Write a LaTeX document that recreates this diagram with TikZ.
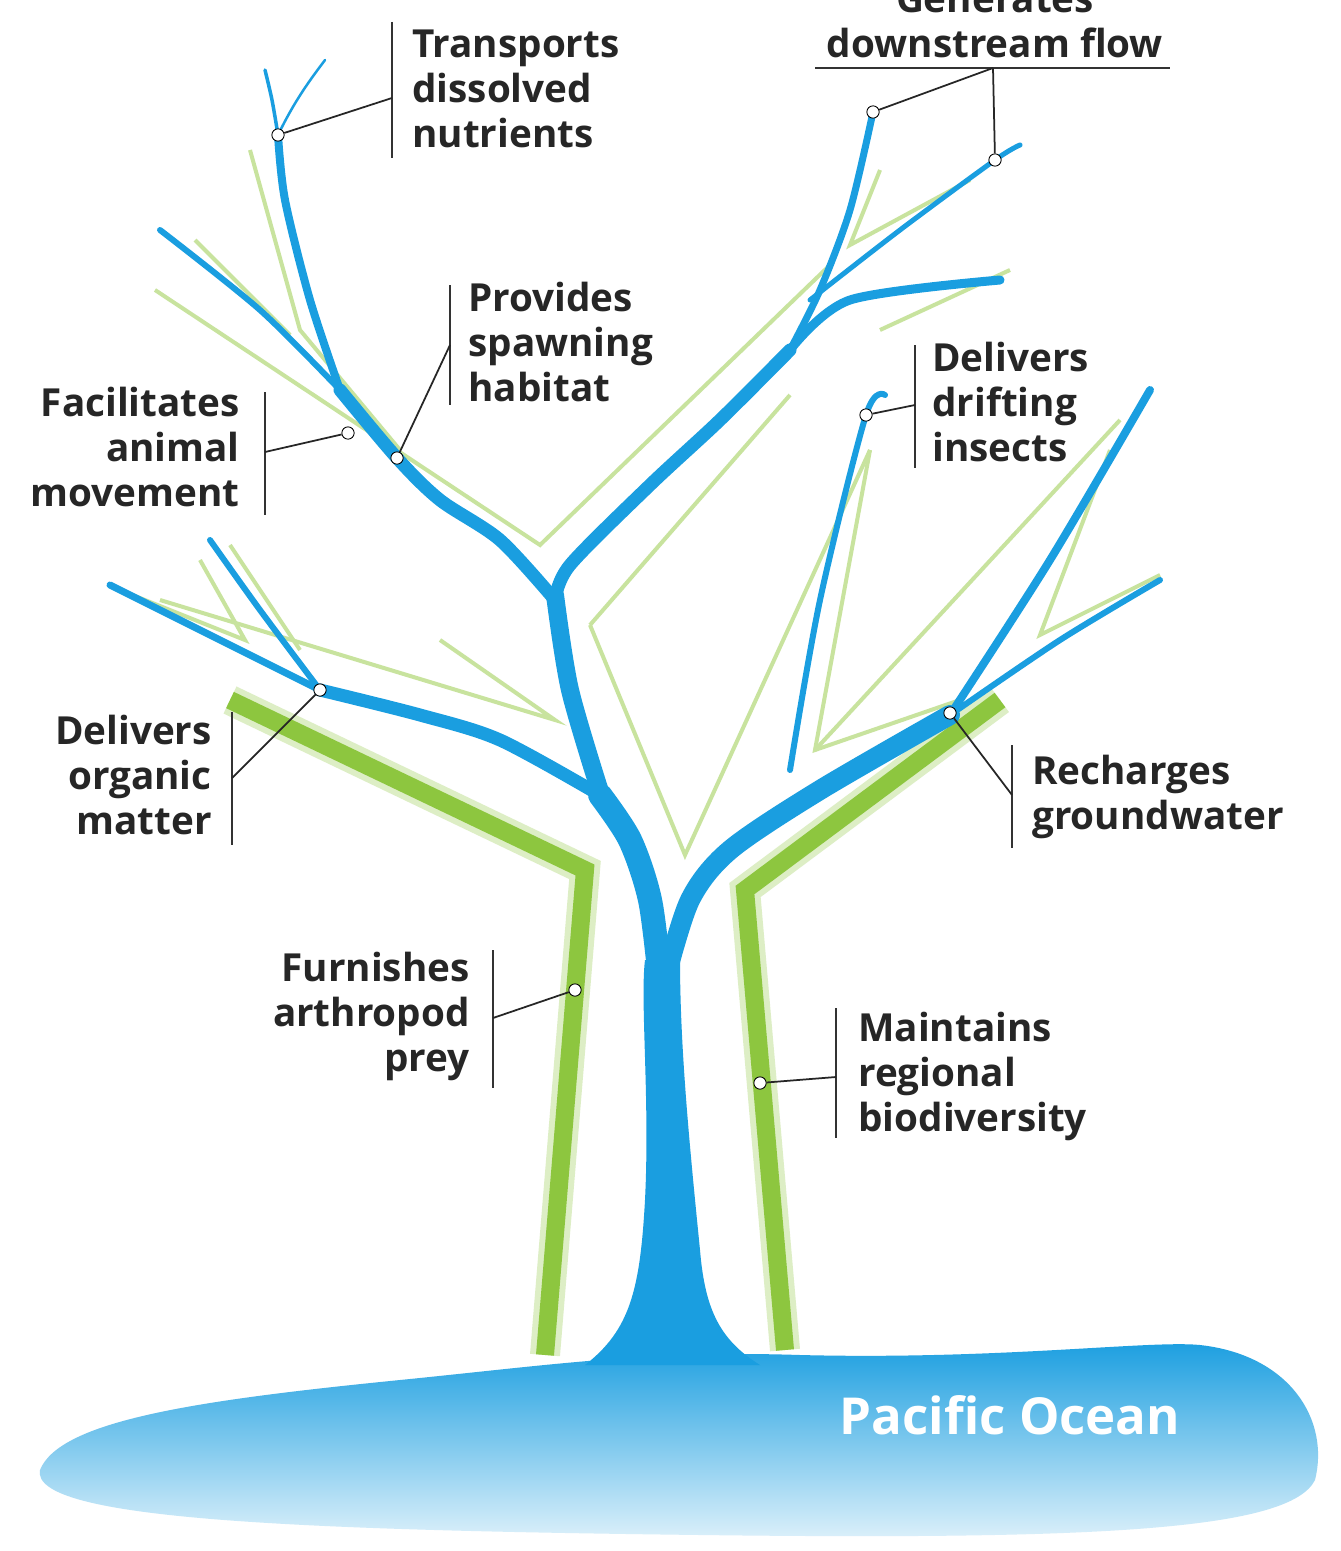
\documentclass[tikz,border=0pt]{standalone}
\usepackage{fontspec}
\setmainfont{Open Sans}
\begin{document}
\begin{tikzpicture}[x=0.02cm,y=-0.02cm,
  riv/.style={draw=rblue,line cap=round,line join=round},
  gthick/.style={draw=gmain,line width=18*0.02cm,line join=miter},
  gglow/.style={draw=gmain!30,line width=30*0.02cm,line join=miter},
  gthin/.style={draw=glight,line width=4*0.02cm,line join=miter},
  lab/.style={font=\fontsize{22}{25.5}\selectfont\bfseries,inner sep=0pt,text=black!85},
  bar/.style={draw=black!80,line width=1.3pt},
  lead/.style={draw=black!85,line width=1pt},
  pt/.style={circle,draw=black,fill=white,line width=0.5pt,minimum size=7pt,inner sep=0pt}]
\definecolor{rblue}{HTML}{1A9EE0}
\definecolor{gmain}{HTML}{8DC63F}
\definecolor{glight}{HTML}{C8E39E}
\useasboundingbox (0,0) rectangle (1341,1551);
\fill[white] (0,0) rectangle (1341,1551);
% thin green
\begin{scope}[gthin]
\draw (155,290) -- (540,545) -- (830,265);
\draw (250,150) -- (300,330) -- (400,450);
\draw (195,240) -- (290,335);
\draw (590,625) -- (790,395);
\draw (590,625) -- (685,855) -- (870,450);
\draw (880,170) -- (850,245) -- (970,180);
\draw (880,330) -- (1010,270);
\draw (870,450) -- (815,750) -- (960,700);
\draw (1120,420) -- (815,750);
\draw (1110,450) -- (1040,635) -- (1160,575);
\draw (230,545) -- (300,650);
\draw (200,560) -- (245,640) -- (120,590);
\draw (160,600) -- (555,720) -- (440,640);
\end{scope}
% thick green
\draw[gglow] (545,1355) -- (585,870) -- (230,700);
\draw[gglow] (785,1350) -- (745,890) -- (1000,700);
\draw[gthick] (545,1355) -- (585,870) -- (230,700);
\draw[gthick] (785,1350) -- (745,890) -- (1000,700);
% ocean
\shade[top color=rblue, bottom color=rblue!15]
 (40,1470) .. controls (60,1420) and (200,1400) .. (400,1380)
 .. controls (550,1365) and (650,1350) .. (800,1355)
 .. controls (1000,1360) and (1150,1340) .. (1200,1345)
 .. controls (1290,1355) and (1330,1420) .. (1315,1480)
 .. controls (1290,1530) and (1100,1540) .. (700,1535)
 .. controls (300,1530) and (30,1520) .. (40,1470) -- cycle;
% trunk
\fill[rblue] (585,1365) .. controls (630,1330) and (640,1290) .. (645,1200)
 .. controls (650,1100) and (640,1000) .. (645,960) -- (680,960)
 .. controls (680,1050) and (690,1150) .. (700,1250)
 .. controls (705,1310) and (720,1340) .. (760,1365) -- cycle;
\draw[riv,line width=24*0.02cm] plot[smooth] coordinates {(660,980) (650,900) (630,840) (600,795)};
\draw[riv,line width=20*0.02cm] plot[smooth] coordinates {(665,980) (690,900) (730,850) (820,790) (950,715)};
\draw[riv,line width=18*0.02cm] plot[smooth] coordinates {(602,798) (570,690) (555,595)};
\draw[riv,line width=13*0.02cm] plot[smooth] coordinates {(600,795) (500,740) (420,715) (320,690)};
\draw[riv,line width=13*0.02cm] plot[smooth] coordinates {(555,600) (500,540) (440,500) (397,458) (340,390)};
\draw[riv,line width=13*0.02cm] plot[smooth] coordinates {(555,600) (570,565) (650,485) (720,420) (790,350)};
% left upper
\draw[riv,line width=8*0.02cm] plot[smooth] coordinates {(340,390) (310,300) (285,200) (278,135)};
\draw[riv,line width=6*0.02cm] plot[smooth] coordinates {(340,390) (260,310) (160,230)};
\draw[riv,line width=3.5*0.02cm] plot[smooth] coordinates {(278,135) (272,100) (265,70)};
\draw[riv,line width=2.5*0.02cm] (278,135) .. controls (295,100) and (310,80) .. (325,60);
% left lower
\draw[riv,line width=7*0.02cm] plot[smooth] coordinates {(320,690) (220,640) (110,585)};
\draw[riv,line width=6*0.02cm] plot[smooth] coordinates {(320,690) (260,610) (210,540)};
% upper right
\draw[riv,line width=9*0.02cm] plot[smooth] coordinates {(790,350) (850,300) (1000,280)};
\draw[riv,line width=7*0.02cm] plot[smooth] coordinates {(790,350) (820,290) (850,210) (873,112)};
\draw[riv,line width=5*0.02cm] plot[smooth] coordinates {(810,300) (900,230) (995,160) (1020,145)};
% right
\draw[riv,line width=8*0.02cm] plot[smooth] coordinates {(950,715) (1050,560) (1150,390)};
\draw[riv,line width=6*0.02cm] plot[smooth] coordinates {(950,715) (1060,640) (1160,580)};
\draw[riv,line width=6*0.02cm] plot[smooth] coordinates {(790,770) (820,600) (866,415) (885,395)};
% points
\node[pt] (p1) at (278,135) {};
\node[pt] (p2a) at (873,112) {};
\node[pt] (p2b) at (995,160) {};
\node[pt] (p3) at (397,458) {};
\node[pt] (p4) at (348,433) {};
\node[pt] (p5) at (866,415) {};
\node[pt] (p6) at (320,690) {};
\node[pt] (p7) at (950,713) {};
\node[pt] (p8) at (575,990) {};
\node[pt] (p9) at (760,1083) {};
% labels
\node[lab,anchor=north west,align=left] (t1) at (412,30) {Transports\\dissolved\\nutrients};
\node[lab,anchor=south,align=center] (t2) at (995,58) {Generates\\downstream flow};
\node[lab,anchor=north west,align=left] (t3) at (468,282) {Provides\\spawning\\habitat};
\node[lab,anchor=north east,align=right] (t4) at (240,387) {Facilitates\\animal\\movement};
\node[lab,anchor=north west,align=left] (t5) at (932,342) {Delivers\\drifting\\insects};
\node[lab,anchor=north east,align=right] (t6) at (212,715) {Delivers\\organic\\matter};
\node[lab,anchor=north west,align=left] (t7) at (1032,755) {Recharges\\groundwater};
\node[lab,anchor=north east,align=right] (t8) at (470,952) {Furnishes\\arthropod\\prey};
\node[lab,anchor=north west,align=left] (t9) at (858,1012) {Maintains\\regional\\biodiversity};
\node[font=\fontsize{29}{32}\selectfont\bfseries,text=white,inner sep=0pt] (oc) at (1010,1415) {Pacific Ocean};
% bars and leaders
\coordinate (b1) at (392,98); \draw[bar] (392,22) -- (392,158); \draw[lead] (b1) -- (p1);
\coordinate (b2) at (993,68); \draw[bar] (815,68) -- (1170,68); \draw[lead] (b2) -- (p2a); \draw[lead] (b2) -- (p2b);
\coordinate (b3) at (450,345); \draw[bar] (450,285) -- (450,405); \draw[lead] (b3) -- (p3);
\coordinate (b4) at (265,452); \draw[bar] (265,392) -- (265,515); \draw[lead] (b4) -- (p4);
\coordinate (b5) at (915,405); \draw[bar] (915,345) -- (915,468); \draw[lead] (b5) -- (p5);
\coordinate (b6) at (232,778); \draw[bar] (232,712) -- (232,845); \draw[lead] (b6) -- (p6);
\coordinate (b7) at (1012,795); \draw[bar] (1012,745) -- (1012,848); \draw[lead] (b7) -- (p7);
\coordinate (b8) at (493,1018); \draw[bar] (493,950) -- (493,1088); \draw[lead] (b8) -- (p8);
\coordinate (b9) at (836,1077); \draw[bar] (836,1008) -- (836,1138); \draw[lead] (b9) -- (p9);
\end{tikzpicture}
\end{document}
